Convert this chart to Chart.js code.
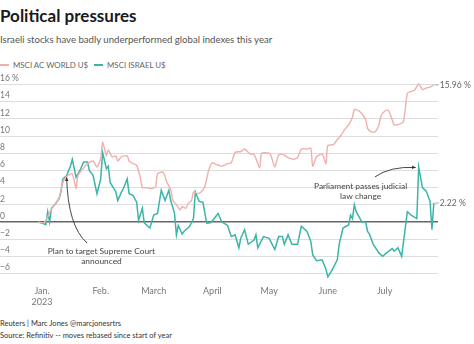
<!DOCTYPE html>
<html>
<head>
<meta charset="utf-8">
<script src="https://cdn.jsdelivr.net/npm/chart.js@4/dist/chart.umd.min.js"></script>
<style>
  body { margin: 0; background: #fff; font-family: Lato, sans-serif; }
  #wrap { position: relative; width: 474px; height: 344px; overflow: hidden; }
  h1 { position: absolute; left: 0; top: 5px; margin: 0; font-size: 17px; font-weight: 700; color: #1a1a1a; }
  .sub { position: absolute; left: 0; top: 34px; font-size: 9.6px; color: #555; white-space: nowrap; }
  .legend { position: absolute; left: 0; top: 60px; font-size: 7.9px; color: #666; display: flex; align-items: center; white-space: nowrap; }
  .legend i { display: inline-block; width: 9px; height: 1.5px; margin-right: 4px; }
  .legend span { margin-right: 6px; }
  .foot { position: absolute; left: 0; font-size: 7.5px; color: #333; white-space: nowrap; }
  canvas { position: absolute; left: 0; top: 70px; }
</style>
</head>
<body>
<div id="wrap">
  <h1>Political pressures</h1>
  <div class="sub">Israeli stocks have badly underperformed global indexes this year</div>
  <div class="legend">
    <i style="background:#f0b0ac"></i><span>MSCI AC WORLD U$</span>
    <i style="background:#3ab5a8"></i><span>MSCI ISRAEL U$</span>
  </div>
  <canvas id="chart" width="474" height="242"></canvas>
  <div class="foot" style="top:319px">Reuters | Marc Jones @marcjonesrtrs</div>
  <div class="foot" style="top:331px">Source: Refinitiv -- moves rebased since start of year</div>
</div>
<script>
// days counted from Jan 1, 2023; values are % change since start of year
const worldDays = [-2, 1, 3, 5, 7, 9, 11, 13, 16, 18, 19, 22, 24, 27, 29, 31, 32, 34, 35, 37, 39, 40, 42, 45, 46, 48, 50,
  52, 53, 55, 58, 60, 61, 64, 66, 68, 69, 71, 73, 74, 76, 77, 79, 80, 82, 84, 86, 88, 90, 92, 95, 98, 100, 102, 105,
  107, 110, 112, 115, 116, 120, 121, 123, 125, 127, 130, 133, 135, 137, 140, 142, 143, 145, 148, 150, 151, 154, 156,
  158, 160, 162, 164, 165, 167, 169, 171, 172, 174, 176, 178, 179, 181, 183, 185, 186, 189, 191, 193, 195, 197, 199,
  201, 203, 205, 207];
const worldValues = [0, -0.1, 0.6, 1.5, 2.1, 2.8, 4.6, 5.3, 5.6, 3.9, 5.4, 6.3, 6.8, 7.1, 6.4, 7.4, 9.3, 7.7, 8.4, 7.6,
  7.7, 7.1, 7.6, 7.7, 7.1, 6.8, 6.6, 5.1, 4.0, 4.0, 3.9, 4.1, 5.6, 5.8, 4.6, 3.8, 2.6, 2.0, 1.4, 1.8, 1.6, 2.1, 2.5,
  3.5, 3.3, 3.5, 4.1, 6.0, 6.9, 6.7, 6.5, 6.8, 6.9, 8.1, 8.2, 8.5, 7.9, 7.9, 6.3, 8.0, 8.0, 7.7, 6.4, 7.8, 7.9, 7.5,
  7.3, 7.5, 8.5, 8.5, 8.6, 6.5, 7.6, 7.9, 6.8, 8.9, 9.0, 9.6, 10.1, 10.8, 11.3, 12.2, 13.1, 13.0, 12.6, 11.9, 10.9,
  10.5, 10.5, 11.3, 12.3, 12.9, 13.0, 11.9, 11.3, 11.4, 11.7, 15.0, 15.2, 15.4, 16.1, 15.4, 15.6, 15.7, 15.96];

const israelDays = [-2, 1, 2, 3, 4, 5, 7, 9, 10, 11, 13, 15, 16, 18, 20, 22, 24, 25, 27, 29, 31, 32, 34, 35, 36, 39, 40,
  42, 43, 45, 46, 48, 50, 51, 53, 54, 57, 59, 61, 63, 65, 67, 68, 70, 71, 72, 74, 75, 78, 80, 81, 83, 85, 87, 89, 91,
  93, 95, 98, 100, 102, 104, 105, 107, 109, 112, 113, 114, 117, 120, 123, 125, 127, 128, 130, 132, 135, 137, 140, 142,
  143, 145, 148, 150, 151, 153, 156, 157, 159, 162, 163, 164, 165, 166, 169, 171, 172, 173, 175, 178, 180, 182, 185,
  186, 188, 190, 193, 195, 198, 199, 201, 203, 205, 206, 207];
const israelValues = [0, -0.2, -0.3, 1.2, 0, 1.6, 2.1, 2.7, 3.5, 5.0, 5.4, 6.5, 7.3, 5.2, 6.0, 7.0, 7.0, 6.0, 5.4, 3.3,
  5.0, 8.1, 6.2, 6.5, 4.6, 3.5, 2.5, 3.5, 3.9, 5.0, 3.3, 3.1, 2.3, 0.2, 1.6, -0.1, -0.7, 0.8, 1.0, 3.7, 2.5, 3.7, 2.5,
  1.0, -1.5, -0.4, -1.4, -1.1, -0.5, 0.4, 3.5, 2.4, 2.3, -0.15, -0.1, 0.4, 1.0, 0, -0.4, -1.7, -1.5, -3.0, -1.9, -0.9,
  -2.6, -2.1, -1.5, -3.0, -1.7, -1.9, -3.2, -1.7, -1.7, -2.6, -1.5, -2.6, -2.6, -0.5, -1.1, -2.25, -3.8, -4.5, -4.4,
  -5.5, -6.4, -5.7, -4.4, -2.6, -0.7, -0.35, 0.8, 0.4, 2.0, 1.2, 0, 0, -1.1, -1.4, -2.6, -3.6, -4.0, -3.6, -3.1, -3.4,
  -3.0, -4.0, 1.2, 0.8, 0.4, 6.4, 4.0, 3.6, 2.4, -0.9, 2.22];

const monthDays = [0, 31, 59, 90, 120, 151, 181];
const monthLabels = ['Jan.', 'Feb.', 'March', 'April', 'May', 'June', 'July'];
const yearLabel = '2023';
const yTicks = [-6, -4, -2, 0, 2, 4, 6, 8, 10, 12, 14, 16];

// callout text, anchored in data units (day, %)
const notes = [
  { lines: ['Plan to target Supreme Court', 'announced'], day: 31.4, value: -3.4 },
  { lines: ['Parliament passes judicial', 'law change'], day: 168.3, value: 4.1 }
];
const arrows = [
  { from: [23.8, -2.45], ctrl: [13.7, -0.5], to: [13, 5.2] },
  { from: [175.9, 5.25], ctrl: [183.8, 6.5], to: [197.4, 6.35] }
];

const WORLD = '#f0b0ac';
const ISRAEL = '#3ab5a8';
const FONT = 'Lato, sans-serif';

const toPoints = (days, vals) => days.map((d, i) => ({ x: d, y: vals[i] }));

const fmtTick = v => {
  if (v === 16) return '16 %';
  return v < 0 ? '\u2212' + Math.abs(v) : String(v);
};

const calloutPlugin = {
  id: 'callouts',
  afterDatasetsDraw(chart) {
    const { ctx, scales: { x, y } } = chart;
    ctx.save();

    // end-of-line value labels
    ctx.font = '8.6px ' + FONT;
    ctx.fillStyle = '#666';
    ctx.textBaseline = 'middle';
    ctx.textAlign = 'left';
    chart.data.datasets.forEach((ds, i) => {
      const meta = chart.getDatasetMeta(i);
      const last = meta.data[meta.data.length - 1];
      const v = ds.data[ds.data.length - 1].y;
      ctx.strokeStyle = '#999';
      ctx.lineWidth = 0.8;
      ctx.beginPath();
      ctx.moveTo(last.x + 1, last.y);
      ctx.lineTo(last.x + 5, last.y);
      ctx.stroke();
      ctx.fillText(v.toFixed(2) + ' %', last.x + 6, last.y);
    });

    // annotation text
    ctx.font = '8.4px ' + FONT;
    ctx.fillStyle = '#444';
    ctx.textAlign = 'center';
    notes.forEach(n => {
      const cx = x.getPixelForValue(n.day);
      const cy = y.getPixelForValue(n.value);
      n.lines.forEach((t, k) => ctx.fillText(t, cx, cy + k * 10));
    });

    // curved arrows
    ctx.strokeStyle = '#333';
    ctx.fillStyle = '#333';
    ctx.lineWidth = 0.9;
    arrows.forEach(a => {
      const p0 = [x.getPixelForValue(a.from[0]), y.getPixelForValue(a.from[1])];
      const c = [x.getPixelForValue(a.ctrl[0]), y.getPixelForValue(a.ctrl[1])];
      const p1 = [x.getPixelForValue(a.to[0]), y.getPixelForValue(a.to[1])];
      ctx.beginPath();
      ctx.moveTo(p0[0], p0[1]);
      ctx.quadraticCurveTo(c[0], c[1], p1[0], p1[1]);
      ctx.stroke();
      const ang = Math.atan2(p1[1] - c[1], p1[0] - c[0]);
      ctx.beginPath();
      ctx.moveTo(p1[0], p1[1]);
      ctx.lineTo(p1[0] - 4 * Math.cos(ang - 0.45), p1[1] - 4 * Math.sin(ang - 0.45));
      ctx.lineTo(p1[0] - 4 * Math.cos(ang + 0.45), p1[1] - 4 * Math.sin(ang + 0.45));
      ctx.closePath();
      ctx.fill();
    });
    ctx.restore();
  }
};

new Chart(document.getElementById('chart'), {
  type: 'line',
  data: {
    datasets: [
      {
        label: 'MSCI AC WORLD U$',
        data: toPoints(worldDays, worldValues),
        borderColor: WORLD,
        borderWidth: 1.4,
        pointRadius: 0,
        tension: 0.2
      },
      {
        label: 'MSCI ISRAEL U$',
        data: toPoints(israelDays, israelValues),
        borderColor: ISRAEL,
        borderWidth: 1.5,
        pointRadius: 0,
        tension: 0
      }
    ]
  },
  options: {
    responsive: false,
    animation: false,
    devicePixelRatio: 1,
    layout: { padding: { top: 12, right: 36, left: 0, bottom: 0 } },
    plugins: { legend: { display: false }, tooltip: { enabled: false } },
    scales: {
      x: {
        type: 'linear',
        min: -22.2,
        max: 209.2,
        afterBuildTicks: axis => { axis.ticks = monthDays.map(v => ({ value: v })); },
        grid: { display: false, drawTicks: false },
        border: { display: false },
        ticks: {
          color: '#777',
          font: { family: FONT, size: 9 },
          padding: 5,
          maxRotation: 0,
          autoSkip: false,
          callback: v => {
            const i = monthDays.indexOf(v);
            if (i < 0) return '';
            return i === 0 ? [monthLabels[0], yearLabel] : monthLabels[i];
          }
        }
      },
      y: {
        min: -6.8,
        max: 16.3,
        afterBuildTicks: axis => { axis.ticks = yTicks.map(v => ({ value: v })); },
        border: { display: false },
        grid: {
          drawTicks: false,
          color: ctx => ctx.tick && ctx.tick.value === 0 ? '#666' : '#ddd',
          lineWidth: ctx => ctx.tick && ctx.tick.value === 0 ? 1.5 : 1
        },
        ticks: {
          mirror: true,
          padding: 0,
          labelOffset: -6,
          color: '#777',
          font: { family: FONT, size: 8.5 },
          callback: fmtTick
        }
      }
    }
  },
  plugins: [calloutPlugin]
});
</script>
</body>
</html>
